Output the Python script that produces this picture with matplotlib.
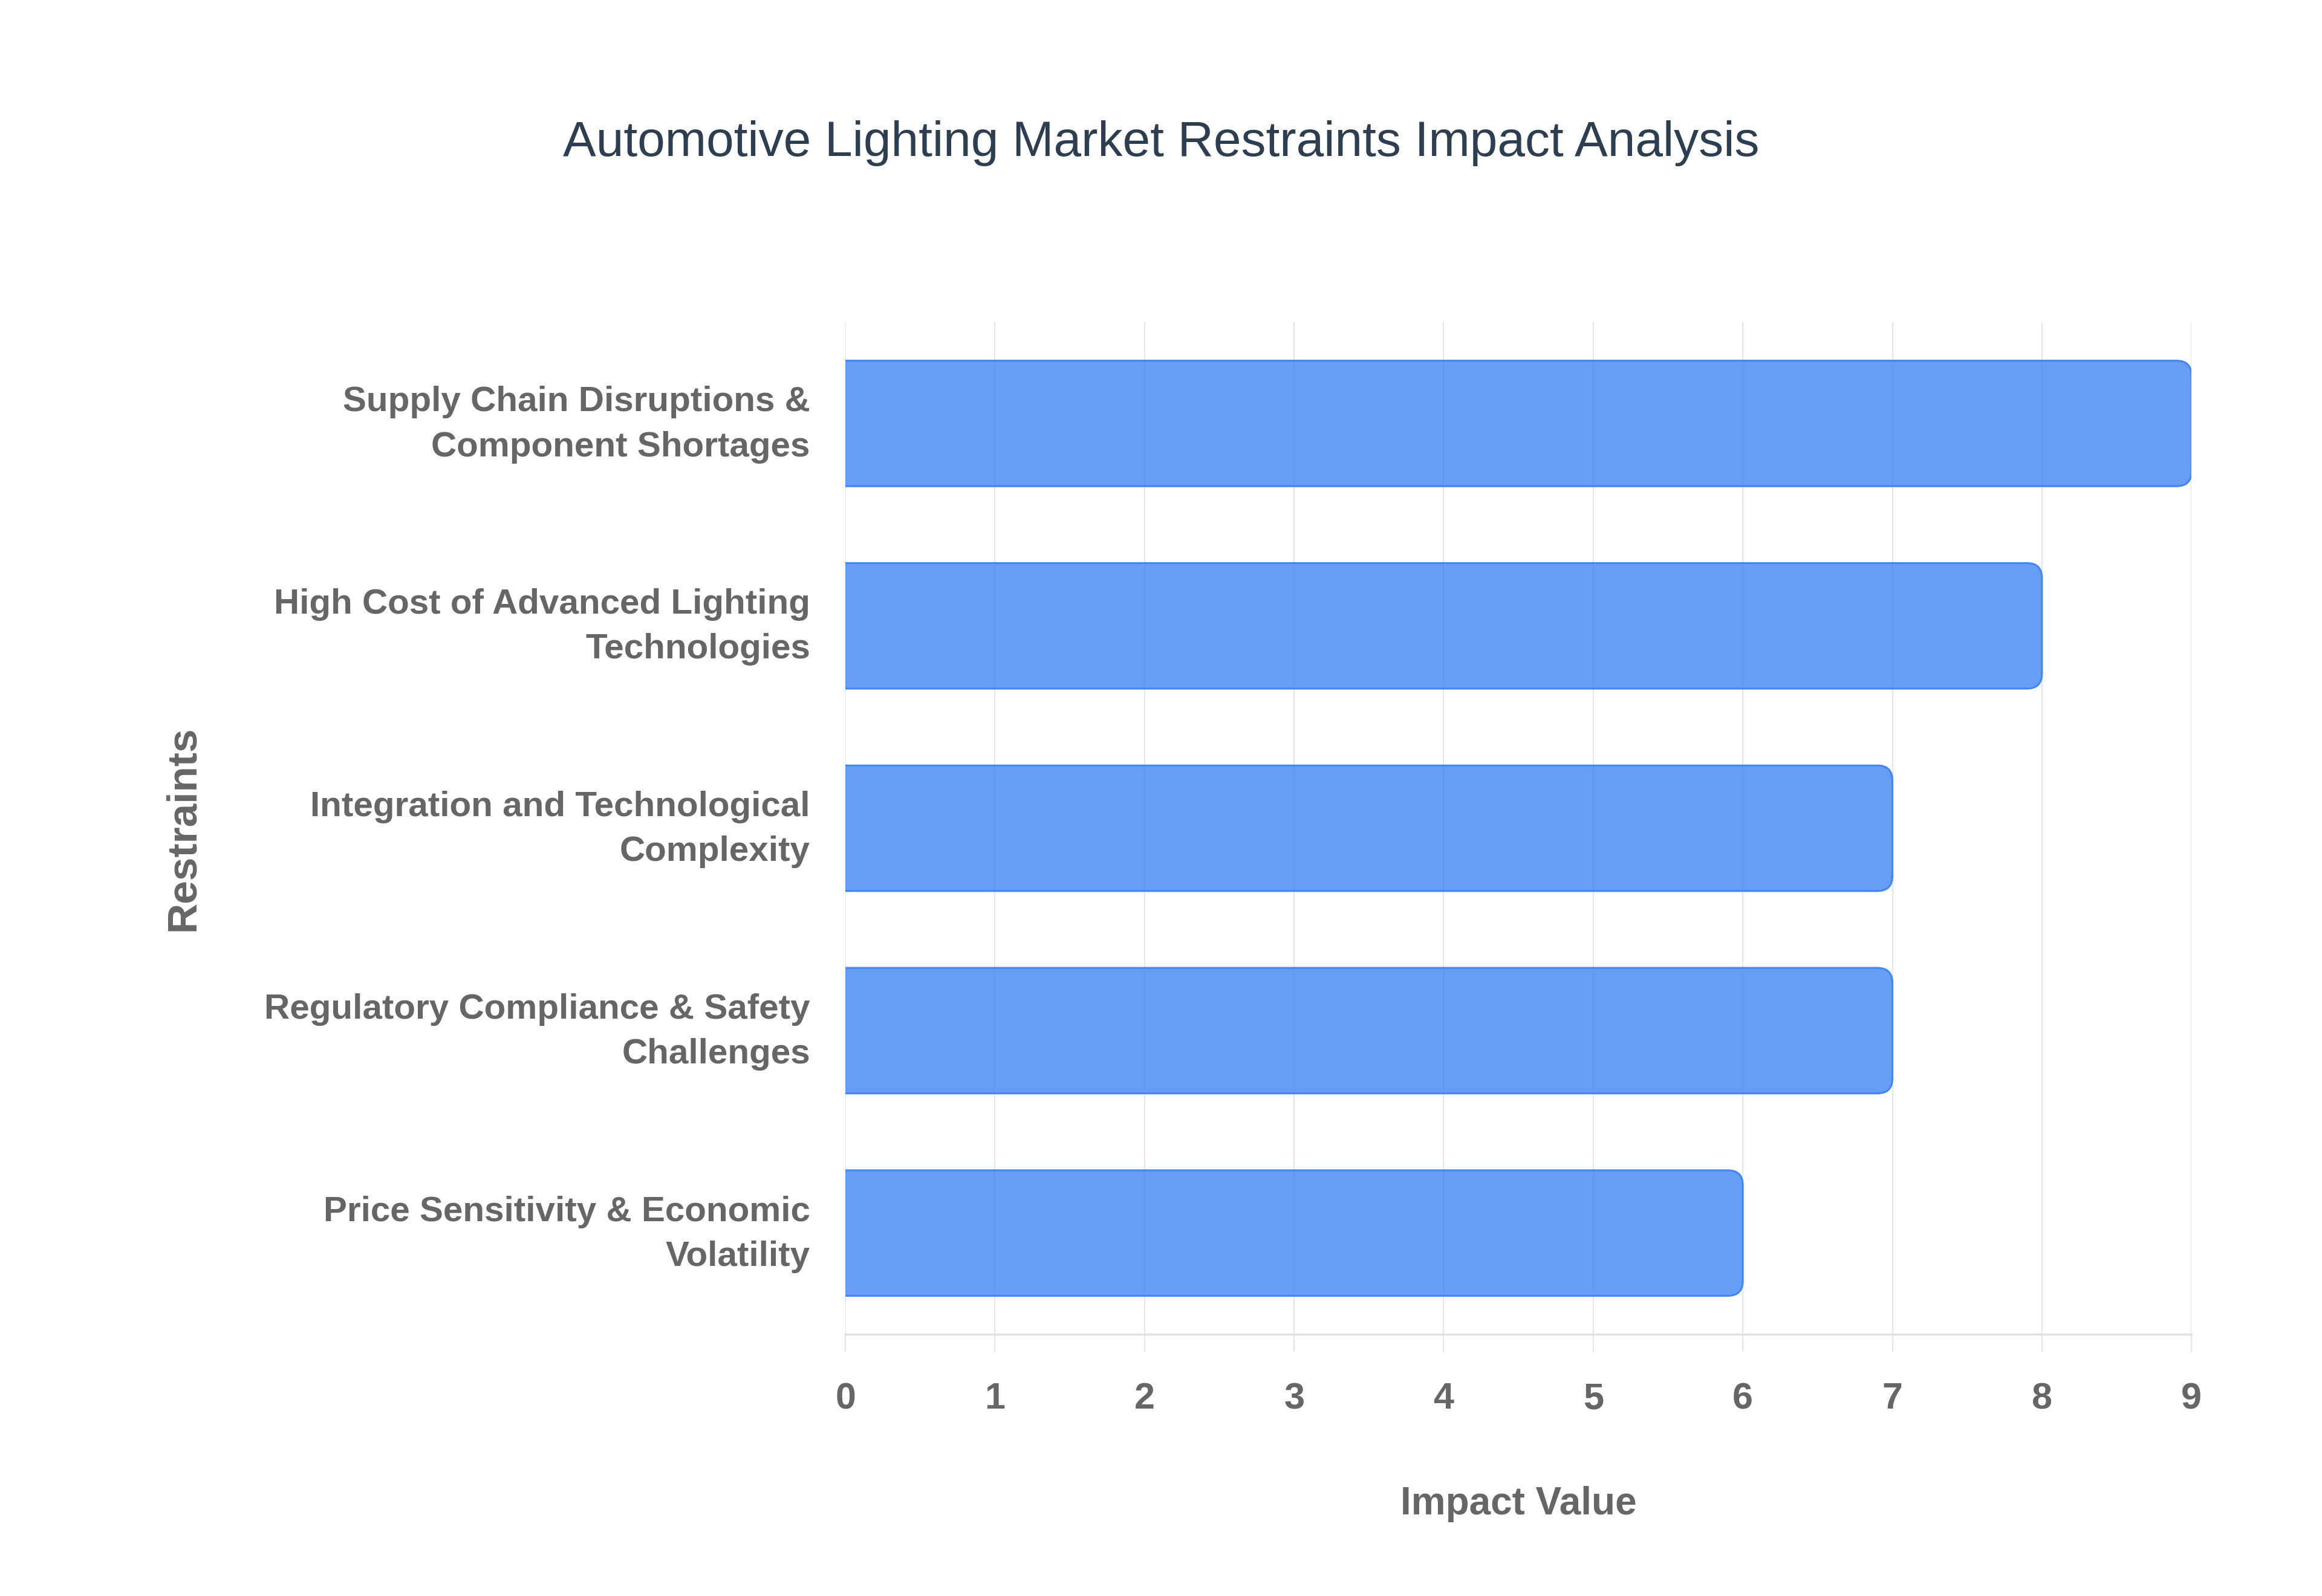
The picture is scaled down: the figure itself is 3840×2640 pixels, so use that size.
import matplotlib
matplotlib.use("Agg")
import matplotlib.pyplot as plt
import matplotlib.transforms as mtransforms
from matplotlib.patches import FancyBboxPatch

# chart data, top bar first
restraints = [
    "Supply Chain Disruptions &\nComponent Shortages",
    "High Cost of Advanced Lighting\nTechnologies",
    "Integration and Technological\nComplexity",
    "Regulatory Compliance & Safety\nChallenges",
    "Price Sensitivity & Economic\nVolatility",
]
impact = [9, 8, 7, 7, 6]
x_ticks = [0, 1, 2, 3, 4, 5, 6, 7, 8, 9]

title = "Automotive Lighting Market Restraints Impact Analysis"
x_title = "Impact Value"
y_title = "Restraints"

bar_face = (66 / 255, 133 / 255, 244 / 255, 0.8)
bar_edge = "#4285f4"
label_grey = "#666666"
grid_grey = "#e6e6e6"

plt.rcParams["font.family"] = ["Liberation Sans", "DejaVu Sans"]

fig, ax = plt.subplots(figsize=(38.4, 26.4), dpi=100)
fig.subplots_adjust(left=0.3641, right=0.9438, top=0.7981, bottom=0.1640)

# rounded bars: square on the left (clipped at x=0), round at the value end
for i, v in enumerate(impact):
    bar = FancyBboxPatch((-0.3, i - 0.31), v + 0.3, 0.62,
                         boxstyle="round,pad=0,rounding_size=0.1",
                         mutation_aspect=0.74,
                         facecolor=bar_face, edgecolor=bar_edge,
                         linewidth=2.2, zorder=2)
    ax.add_patch(bar)

ax.set_xlim(0, 9)
ax.set_ylim(4.5, -0.5)

ax.set_xticks(x_ticks)
ax.set_xticklabels([str(t) for t in x_ticks])
ax.set_yticks(range(len(restraints)))
ax.set_yticklabels(restraints, linespacing=1.48)

ax.grid(axis="x", color=grid_grey, linewidth=1.6, zorder=0)
ax.set_axisbelow(True)

for side in ["top", "right", "left"]:
    ax.spines[side].set_visible(False)
ax.spines["bottom"].set_color("#e0e0e0")
ax.spines["bottom"].set_linewidth(2.4)

ax.tick_params(axis="x", length=21, width=1.6, color=grid_grey, pad=36,
               labelsize=44, labelcolor=label_grey)
ax.tick_params(axis="y", length=0, pad=42, labelsize=42, labelcolor=label_grey)
for lab in ax.get_xticklabels():
    lab.set_fontweight("bold")
# nudge the two-line category labels up a little
shift = mtransforms.ScaledTranslation(0, 0.14, fig.dpi_scale_trans)
for lab in ax.get_yticklabels():
    lab.set_fontweight("bold")
    lab.set_transform(lab.get_transform() + shift)

ax.set_xlabel(x_title, fontsize=46, fontweight="bold", color=label_grey)
ax.xaxis.label.set_va("baseline")
ax.xaxis.set_label_coords(0.5, -0.178)

ax.set_ylabel(y_title, fontsize=50, fontweight="bold", color=label_grey)
ax.yaxis.label.set_va("center")
ax.yaxis.set_label_coords(-0.492, 0.5)

fig.text(0.5, 0.9023, title, ha="center", va="baseline",
         fontsize=59, color="#2c3e50")

fig.savefig("out.png", dpi=100, facecolor="white")
